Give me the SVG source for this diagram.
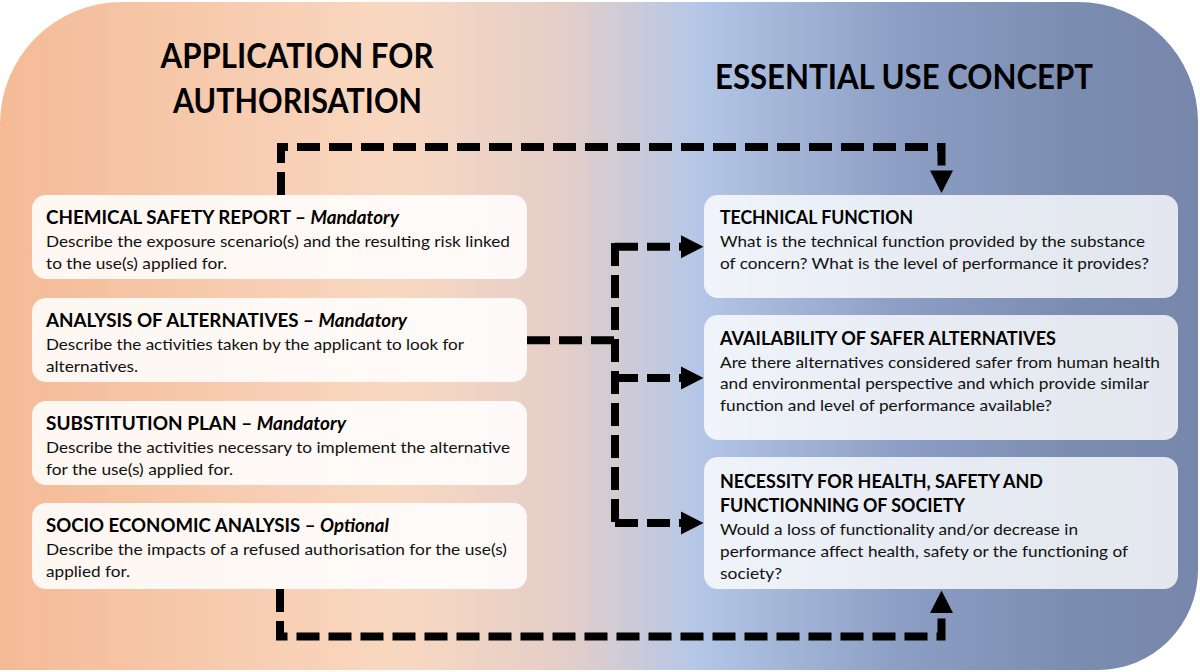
<svg xmlns="http://www.w3.org/2000/svg" width="1200" height="672" viewBox="0 0 1200 672">
<style>
.bl{fill:#fff;fill-opacity:.87}
.br{fill:#fff;fill-opacity:.8}
text{font-family:Lato,"Liberation Sans",sans-serif;fill:#000}
.t{font-weight:700;font-size:34px;text-anchor:middle}
.h{font-weight:700;font-size:19px}
.b{font-size:16.2px;fill:#111}
.i{font-style:italic}
.c{fill:none;stroke:#000;stroke-width:8;stroke-dasharray:23 9}
</style>
<defs>
<linearGradient id="bg" gradientUnits="userSpaceOnUse" x1="0" y1="0" x2="1200" y2="0">
<stop offset="0" stop-color="#F4BA96"/>
<stop offset="0.33" stop-color="#F9D8C1"/>
<stop offset="0.47" stop-color="#E4CEC8"/>
<stop offset="0.58" stop-color="#B5C7E7"/>
<stop offset="0.75" stop-color="#8C9EC3"/>
<stop offset="0.9" stop-color="#7A8CB0"/>
<stop offset="1" stop-color="#7687AB"/>
</linearGradient>
<marker id="arr" markerUnits="userSpaceOnUse" markerWidth="23" markerHeight="24" refX="0" refY="11.5" orient="auto" overflow="visible">
<path d="M0,0 L22.5,11.5 L0,23 Z" fill="#000"/>
</marker>
</defs>
<path id="background" d="M0,672 V124 A122,122 0 0 1 122,2 H1078 A120,120 0 0 1 1198,122 V570 A100,100 0 0 1 1098,670 H0 Z" fill="url(#bg)"/>
<g id="titles">
<text class="t" x="297" y="68.3" textLength="273" lengthAdjust="spacingAndGlyphs">APPLICATION FOR</text>
<text class="t" x="297.5" y="113.3" textLength="249" lengthAdjust="spacingAndGlyphs">AUTHORISATION</text>
<text class="t" x="904" y="89.3" textLength="378" lengthAdjust="spacingAndGlyphs">ESSENTIAL USE CONCEPT</text>
</g>
<g id="connectors">
<path class="c" d="M281,195 V147 H941.5 V170.5" marker-end="url(#arr)"/>
<path class="c" d="M280,589 V636.5 H941.5 V613" marker-end="url(#arr)"/>
<path class="c" d="M527,340.3 H615"/>
<path class="c" d="M615,243 V523"/>
<path class="c" d="M615,246.7 H681" marker-end="url(#arr)"/>
<path class="c" d="M615,378 H681" marker-end="url(#arr)"/>
<path class="c" d="M615,523 H681" marker-end="url(#arr)"/>
</g>
<g id="csr">
<rect class="bl" x="32" y="195" width="495" height="84" rx="14"/>
<text class="h" x="46" y="224.3" textLength="353" lengthAdjust="spacingAndGlyphs">CHEMICAL SAFETY REPORT – <tspan class="i">Mandatory</tspan></text>
<text class="b" x="46" y="247" textLength="464" lengthAdjust="spacingAndGlyphs">Describe the exposure scenario(s) and the resulting risk linked</text>
<text class="b" x="46" y="268.5" textLength="181" lengthAdjust="spacingAndGlyphs">to the use(s) applied for.</text>
</g>
<g id="aoa">
<rect class="bl" x="32" y="298" width="495" height="84" rx="14"/>
<text class="h" x="46" y="327" textLength="361" lengthAdjust="spacingAndGlyphs">ANALYSIS OF ALTERNATIVES – <tspan class="i">Mandatory</tspan></text>
<text class="b" x="46" y="350" textLength="418" lengthAdjust="spacingAndGlyphs">Describe the activities taken by the applicant to look for</text>
<text class="b" x="46" y="371.5" textLength="92" lengthAdjust="spacingAndGlyphs">alternatives.</text>
</g>
<g id="sp">
<rect class="bl" x="32" y="401" width="495" height="84" rx="14"/>
<text class="h" x="46" y="430" textLength="300" lengthAdjust="spacingAndGlyphs">SUBSTITUTION PLAN – <tspan class="i">Mandatory</tspan></text>
<text class="b" x="46" y="453" textLength="464" lengthAdjust="spacingAndGlyphs">Describe the activities necessary to implement the alternative</text>
<text class="b" x="46" y="474.5" textLength="187" lengthAdjust="spacingAndGlyphs">for the use(s) applied for.</text>
</g>
<g id="sea">
<rect class="bl" x="32" y="503" width="495" height="86" rx="14"/>
<text class="h" x="46" y="532" textLength="343" lengthAdjust="spacingAndGlyphs">SOCIO ECONOMIC ANALYSIS – <tspan class="i">Optional</tspan></text>
<text class="b" x="46" y="555" textLength="461" lengthAdjust="spacingAndGlyphs">Describe the impacts of a refused authorisation for the use(s)</text>
<text class="b" x="46" y="576.5" textLength="84" lengthAdjust="spacingAndGlyphs">applied for.</text>
</g>
<g id="tf">
<rect class="br" x="704" y="195" width="474" height="103" rx="14"/>
<text class="h" x="720" y="224.3" textLength="193" lengthAdjust="spacingAndGlyphs">TECHNICAL FUNCTION</text>
<text class="b" x="720" y="247" textLength="425" lengthAdjust="spacingAndGlyphs">What is the technical function provided by the substance</text>
<text class="b" x="720" y="268.5" textLength="429" lengthAdjust="spacingAndGlyphs">of concern? What is the level of performance it provides?</text>
</g>
<g id="asa">
<rect class="br" x="704" y="315" width="474" height="125" rx="14"/>
<text class="h" x="720" y="345" textLength="336" lengthAdjust="spacingAndGlyphs">AVAILABILITY OF SAFER ALTERNATIVES</text>
<text class="b" x="720" y="367.5" textLength="440" lengthAdjust="spacingAndGlyphs">Are there alternatives considered safer from human health</text>
<text class="b" x="720" y="389" textLength="429" lengthAdjust="spacingAndGlyphs">and environmental perspective and which provide similar</text>
<text class="b" x="720" y="410.5" textLength="332" lengthAdjust="spacingAndGlyphs">function and level of performance available?</text>
</g>
<g id="nhs">
<rect class="br" x="704" y="457" width="474" height="132" rx="14"/>
<text class="h" x="720" y="488" textLength="323" lengthAdjust="spacingAndGlyphs">NECESSITY FOR HEALTH, SAFETY AND</text>
<text class="h" x="720" y="512" textLength="245" lengthAdjust="spacingAndGlyphs">FUNCTIONNING OF SOCIETY</text>
<text class="b" x="720" y="535" textLength="358" lengthAdjust="spacingAndGlyphs">Would a loss of functionality and/or decrease in</text>
<text class="b" x="720" y="557" textLength="408" lengthAdjust="spacingAndGlyphs">performance affect health, safety or the functioning of</text>
<text class="b" x="720" y="578.5" textLength="62" lengthAdjust="spacingAndGlyphs">society?</text>
</g>
</svg>
